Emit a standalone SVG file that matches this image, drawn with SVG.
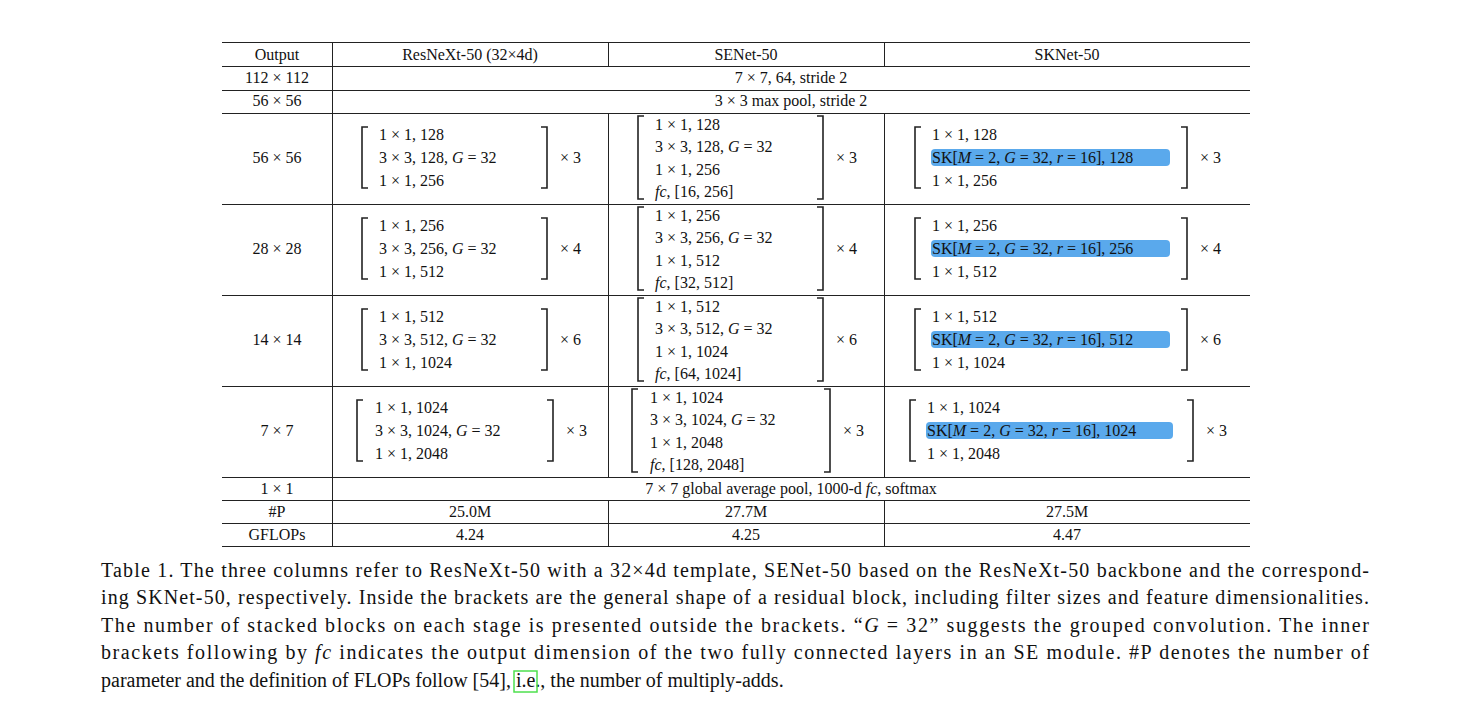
<svg xmlns="http://www.w3.org/2000/svg" width="1484" height="714" viewBox="0 0 1484 714">
<style>
text{font-family:"Liberation Serif","Times New Roman",serif;font-size:16px;fill:#111}
.c{text-anchor:middle}
.i{font-style:italic}
.cap{font-size:20px}
.l{stroke:#222;stroke-width:1;fill:none}
.b{stroke:#222;stroke-width:1.6;fill:none}
.hl{fill:#5aa9ec}
</style>
<rect width="1484" height="714" fill="#fff"/>
<g id="grid">
<path class="l" d="M222 42.5H1250M222 66.5H1250M222 90.5H1250M222 113.5H1250M222 204.5H1250M222 295.5H1250M222 386.5H1250M222 477.5H1250M222 500.5H1250M222 523.5H1250M222 546.5H1250"/>
<path class="l" d="M332.5 42V546M608.5 42V66M608.5 113V477M608.5 500V546M884.5 42V66M884.5 113V477M884.5 500V546"/>
</g>
<g id="header">
<text class="c" x="277" y="60">Output</text>
<text class="c" x="470" y="60">ResNeXt-50 (32×4d)</text>
<text class="c" x="746" y="60">SENet-50</text>
<text class="c" x="1067" y="60">SKNet-50</text>
<text class="c" x="277" y="83">112 × 112</text>
<text class="c" x="791" y="83">7 × 7, 64, stride 2</text>
<text class="c" x="277" y="106">56 × 56</text>
<text class="c" x="791" y="106">3 × 3 max pool, stride 2</text>
</g>
<g id="row56">
<text class="c" x="277" y="163">56 × 56</text>
<path class="b" d="M368 127H362V188H368M541 127H547V188H541M644 116H638V199H644M817 116H823V199H817M921 127H915V188H921M1181 127H1187V188H1181"/>
<text x="379" y="140">1 × 1, 128</text><text x="379" y="163">3 × 3, 128, <tspan class="i">G</tspan> = 32</text><text x="379" y="186">1 × 1, 256</text><text x="560" y="163">× 3</text>
<text x="655" y="130">1 × 1, 128</text><text x="655" y="152">3 × 3, 128, <tspan class="i">G</tspan> = 32</text><text x="655" y="175">1 × 1, 256</text><text x="655" y="197"><tspan class="i">fc</tspan>, [16, 256]</text><text x="836" y="163">× 3</text>
<rect class="hl" x="931" y="149" width="239" height="17" rx="4"/>
<text x="932" y="140">1 × 1, 128</text><text x="932" y="163">SK[<tspan class="i">M</tspan> = 2, <tspan class="i">G</tspan> = 32, <tspan class="i">r</tspan> = 16], 128</text><text x="932" y="186">1 × 1, 256</text><text x="1200" y="163">× 3</text>
</g>
<g id="row28" transform="translate(0,91)">
<text class="c" x="277" y="163">28 × 28</text>
<path class="b" d="M368 127H362V188H368M541 127H547V188H541M644 116H638V199H644M817 116H823V199H817M921 127H915V188H921M1181 127H1187V188H1181"/>
<text x="379" y="140">1 × 1, 256</text><text x="379" y="163">3 × 3, 256, <tspan class="i">G</tspan> = 32</text><text x="379" y="186">1 × 1, 512</text><text x="560" y="163">× 4</text>
<text x="655" y="130">1 × 1, 256</text><text x="655" y="152">3 × 3, 256, <tspan class="i">G</tspan> = 32</text><text x="655" y="175">1 × 1, 512</text><text x="655" y="197"><tspan class="i">fc</tspan>, [32, 512]</text><text x="836" y="163">× 4</text>
<rect class="hl" x="931" y="149" width="239" height="17" rx="4"/>
<text x="932" y="140">1 × 1, 256</text><text x="932" y="163">SK[<tspan class="i">M</tspan> = 2, <tspan class="i">G</tspan> = 32, <tspan class="i">r</tspan> = 16], 256</text><text x="932" y="186">1 × 1, 512</text><text x="1200" y="163">× 4</text>
</g>
<g id="row14" transform="translate(0,182)">
<text class="c" x="277" y="163">14 × 14</text>
<path class="b" d="M368 127H362V188H368M541 127H547V188H541M644 116H638V199H644M817 116H823V199H817M921 127H915V188H921M1181 127H1187V188H1181"/>
<text x="379" y="140">1 × 1, 512</text><text x="379" y="163">3 × 3, 512, <tspan class="i">G</tspan> = 32</text><text x="379" y="186">1 × 1, 1024</text><text x="560" y="163">× 6</text>
<text x="655" y="130">1 × 1, 512</text><text x="655" y="152">3 × 3, 512, <tspan class="i">G</tspan> = 32</text><text x="655" y="175">1 × 1, 1024</text><text x="655" y="197"><tspan class="i">fc</tspan>, [64, 1024]</text><text x="836" y="163">× 6</text>
<rect class="hl" x="931" y="149" width="239" height="17" rx="4"/>
<text x="932" y="140">1 × 1, 512</text><text x="932" y="163">SK[<tspan class="i">M</tspan> = 2, <tspan class="i">G</tspan> = 32, <tspan class="i">r</tspan> = 16], 512</text><text x="932" y="186">1 × 1, 1024</text><text x="1200" y="163">× 6</text>
</g>
<g id="row7" transform="translate(0,273)">
<text class="c" x="277" y="163">7 × 7</text>
<path class="b" d="M363 127H357V188H363M547 127H553V188H547M638 116H632V199H638M824 116H830V199H824M916 127H910V188H916M1187 127H1193V188H1187"/>
<text x="375" y="140">1 × 1, 1024</text><text x="375" y="163">3 × 3, 1024, <tspan class="i">G</tspan> = 32</text><text x="375" y="186">1 × 1, 2048</text><text x="566" y="163">× 3</text>
<text x="650" y="130">1 × 1, 1024</text><text x="650" y="152">3 × 3, 1024, <tspan class="i">G</tspan> = 32</text><text x="650" y="175">1 × 1, 2048</text><text x="650" y="197"><tspan class="i">fc</tspan>, [128, 2048]</text><text x="843" y="163">× 3</text>
<rect class="hl" x="926" y="149" width="247" height="17" rx="4"/>
<text x="927" y="140">1 × 1, 1024</text><text x="927" y="163">SK[<tspan class="i">M</tspan> = 2, <tspan class="i">G</tspan> = 32, <tspan class="i">r</tspan> = 16], 1024</text><text x="927" y="186">1 × 1, 2048</text><text x="1206" y="163">× 3</text>
</g>
<g id="footer">
<text class="c" x="277" y="494">1 × 1</text>
<text class="c" x="791" y="494">7 × 7 global average pool, 1000-d <tspan class="i">fc</tspan>, softmax</text>
<text class="c" x="277" y="517">#P</text><text class="c" x="470" y="517">25.0M</text><text class="c" x="746" y="517">27.7M</text><text class="c" x="1067" y="517">27.5M</text>
<text class="c" x="277" y="540">GFLOPs</text><text class="c" x="470" y="540">4.24</text><text class="c" x="746" y="540">4.25</text><text class="c" x="1067" y="540">4.47</text>
</g>
<g id="caption">
<text class="cap" x="101" y="577" textLength="1268" lengthAdjust="spacing">Table 1. The three columns refer to ResNeXt-50 with a 32×4d template, SENet-50 based on the ResNeXt-50 backbone and the correspond-</text>
<text class="cap" x="101" y="604" textLength="1268" lengthAdjust="spacing">ing SKNet-50, respectively. Inside the brackets are the general shape of a residual block, including filter sizes and feature dimensionalities.</text>
<text class="cap" x="101" y="632" textLength="1268" lengthAdjust="spacing">The number of stacked blocks on each stage is presented outside the brackets. “<tspan class="i">G</tspan> = 32” suggests the grouped convolution. The inner</text>
<text class="cap" x="101" y="659" textLength="1268" lengthAdjust="spacing">brackets following by <tspan class="i">fc</tspan> indicates the output dimension of the two fully connected layers in an SE module. #P denotes the number of</text>
<text class="cap" x="101" y="687">parameter and the definition of FLOPs follow [54], i.e., the number of multiply-adds.</text>
<rect x="514" y="671" width="23" height="21" fill="none" stroke="#4ee04e" stroke-width="1.5"/>
</g>
</svg>
